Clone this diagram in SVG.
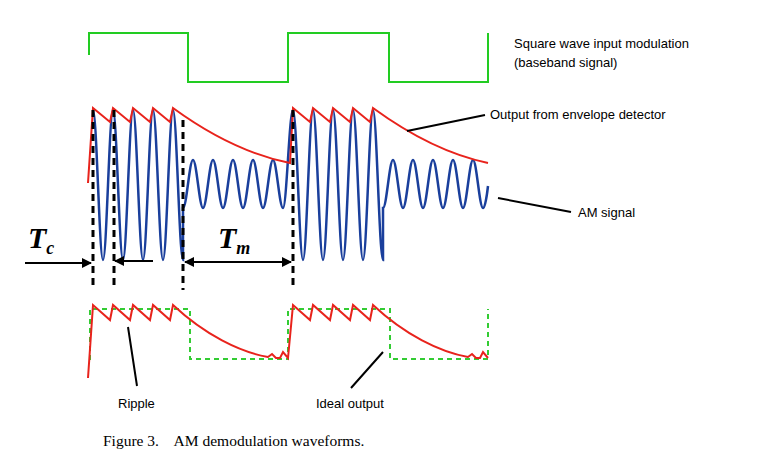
<svg xmlns="http://www.w3.org/2000/svg" width="773" height="456" viewBox="0 0 773 456">
<style>
.lbl{font-family:"Liberation Sans",Arial,sans-serif;font-size:13px;fill:#000}
.T{font-family:"Liberation Serif","Times New Roman",serif;font-weight:bold;font-style:italic;fill:#000}
.blk{stroke:#000;stroke-width:2;fill:none}
.dash{stroke:#000;stroke-width:3;stroke-dasharray:7,5;fill:none}
</style>
<defs>
<marker id="ah" markerWidth="10" markerHeight="10" refX="9" refY="5" orient="auto-start-reverse" markerUnits="userSpaceOnUse"><path d="M0,0 L10,5 L0,10 Z" fill="#000"/></marker>
<path id="am" d="M93,110 C96.6,110 99.4,260 103,260 C106.6,260 109.4,110 113,110 C116.6,110 119.4,260 123,260 C126.6,260 129.4,110 133,110 C136.6,110 139.4,260 143,260 C146.6,260 149.4,110 153,110 C156.6,110 159.4,260 163,260 C166.6,260 169.4,110 173,110 C176.6,110 179.4,260 183,260 L183,208 C186.6,208 189.4,160 193,160 C196.6,160 199.4,208 203,208 C206.6,208 209.4,160 213,160 C216.6,160 219.4,208 223,208 C226.6,208 229.4,160 233,160 C236.6,160 239.4,208 243,208 C246.6,208 249.4,160 253,160 C256.6,160 259.4,208 263,208 C266.6,208 269.4,160 273,160 C276.6,160 279.4,208 283,208"/>
</defs>
<rect width="773" height="456" fill="#fff"/>
<g id="square-wave"><path d="M89,55 L89,33 L188,33 L188,82 L288,82 L288,33 L389,33 L389,82 L488,82 L488,33" fill="none" stroke="#22cc22" stroke-width="2"/></g>
<g id="am-signal" fill="none" stroke="#1a3f9c" stroke-width="2.5">
<use href="#am"/>
<path d="M283,208 C286.6,208 289.4,110 293,110"/>
<use href="#am" transform="translate(200,0)"/>
<path d="M483,208 C485,208 487,195 488,186"/>
</g>
<g id="envelope" fill="none" stroke="#e8231c" stroke-width="2">
<path d="M88,183 L93,108 L110,122 L113,108 L130,122 L133,108 L150,122 L153,108 L170,122 L173,108 C210,135 250,155 290,163 L293,108 L310,122 L313,108 L330,122 L333,108 L350,122 L353,108 L370,122 L373,108 C410,135 450,155 488,163"/>
</g>
<g id="connectors">
<path class="dash" d="M93,110 V290 M114,110 V290 M183,120 V290 M293,110 V290"/>
<path class="blk" d="M25,263 H91" marker-end="url(#ah)"/>
<path class="blk" d="M153,261 H115" marker-end="url(#ah)"/>
<path class="blk" d="M185,262 H291" marker-start="url(#ah)" marker-end="url(#ah)"/>
<path class="blk" d="M407,131 L485,115 M498,198 L571,212 M128,327 L137,386 M383,352 L351,388"/>
</g>
<g id="output">
<path d="M90,360 L90,309 L190,309 L190,359 L288,359 L288,309 L390,309 L390,359 L488,359 L488,309" fill="none" stroke="#33cc33" stroke-width="2" stroke-dasharray="5,4"/>
<path d="M88,378 L93,305 L110,320 L113,305 L130,320 L133,305 L150,320 L153,305 L170,320 L173,305 C205,335 240,352 268,357 L272,354 L276,358 L280,358 L283,352 L288,358 L293,305 L310,320 L313,305 L330,320 L333,305 L350,320 L353,305 L370,320 L373,305 C405,335 440,352 468,357 L472,354 L476,358 L480,358 L483,352 L488,358" fill="none" stroke="#e8231c" stroke-width="2"/>
</g>
<g id="labels">
<text class="T" x="28" y="248" font-size="30">T<tspan font-size="18" dy="6">c</tspan></text>
<text class="T" x="218" y="248" font-size="30">T<tspan font-size="18" dy="6">m</tspan></text>
<text class="lbl" x="514" y="48">Square wave input modulation</text>
<text class="lbl" x="514" y="67">(baseband signal)</text>
<text class="lbl" x="490" y="119">Output from envelope detector</text>
<text class="lbl" x="578" y="217">AM signal</text>
<text class="lbl" x="118" y="408">Ripple</text>
<text class="lbl" x="316" y="408">Ideal output</text>
<text x="103" y="446" font-family="Liberation Serif,serif" font-size="15.5" style="white-space:pre">Figure 3.    AM demodulation waveforms.</text>
</g>
</svg>
